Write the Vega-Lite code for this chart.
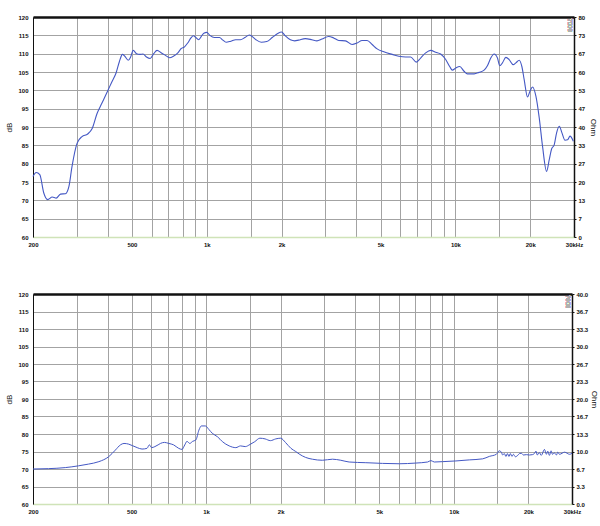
{
  "$schema": "https://vega.github.io/schema/vega-lite/v6.json",
  "background": "white",
  "padding": {"left": 5, "top": 14, "right": 0, "bottom": 2},
  "config": {
    "view": {"stroke": null},
    "font": "Liberation Sans",
    "axis": {"labelFont": "Liberation Sans", "labelFontSize": 6, "labelFontWeight": "bold", "labelColor": "#111", "titleFont": "Liberation Sans", "titleFontWeight": "normal", "titleFontSize": 8, "titleColor": "#111"}
  },
  "datasets": {
    "top": [
      {"f": 200, "db": 76.5}, {"f": 206, "db": 77.6}, {"f": 213, "db": 77.0}, {"f": 221, "db": 72.0}, {"f": 229, "db": 70.2},
      {"f": 239, "db": 70.9}, {"f": 248, "db": 70.6}, {"f": 258, "db": 71.7}, {"f": 270, "db": 71.8}, {"f": 279, "db": 73.8},
      {"f": 287, "db": 79.2}, {"f": 301, "db": 85.6}, {"f": 315, "db": 87.4}, {"f": 332, "db": 88.1}, {"f": 346, "db": 89.6},
      {"f": 362, "db": 93.7}, {"f": 378, "db": 96.4}, {"f": 398, "db": 99.6}, {"f": 415, "db": 102.3}, {"f": 432, "db": 104.8},
      {"f": 445, "db": 107.8}, {"f": 458, "db": 109.8}, {"f": 468, "db": 109.3}, {"f": 483, "db": 108.2}, {"f": 494, "db": 109.1},
      {"f": 506, "db": 110.9}, {"f": 522, "db": 110.0}, {"f": 538, "db": 109.8}, {"f": 554, "db": 109.9}, {"f": 572, "db": 109.1},
      {"f": 592, "db": 108.7}, {"f": 612, "db": 110.0}, {"f": 631, "db": 110.9}, {"f": 657, "db": 110.2}, {"f": 680, "db": 109.6},
      {"f": 709, "db": 108.9}, {"f": 734, "db": 109.3}, {"f": 765, "db": 110.2}, {"f": 789, "db": 111.4}, {"f": 812, "db": 111.8},
      {"f": 838, "db": 112.9}, {"f": 864, "db": 114.3}, {"f": 883, "db": 114.9}, {"f": 904, "db": 114.4}, {"f": 926, "db": 113.8},
      {"f": 951, "db": 114.7}, {"f": 973, "db": 115.6}, {"f": 1000, "db": 115.8}, {"f": 1029, "db": 115.0}, {"f": 1073, "db": 114.4},
      {"f": 1125, "db": 114.4}, {"f": 1161, "db": 113.7}, {"f": 1196, "db": 113.1}, {"f": 1250, "db": 113.4}, {"f": 1307, "db": 113.8},
      {"f": 1365, "db": 113.8}, {"f": 1424, "db": 114.4}, {"f": 1483, "db": 115.1}, {"f": 1522, "db": 114.7}, {"f": 1577, "db": 113.8},
      {"f": 1657, "db": 113.1}, {"f": 1743, "db": 113.3}, {"f": 1834, "db": 114.4}, {"f": 1929, "db": 115.5}, {"f": 2000, "db": 115.9},
      {"f": 2060, "db": 115.0}, {"f": 2170, "db": 113.8}, {"f": 2260, "db": 113.5}, {"f": 2340, "db": 113.7}, {"f": 2491, "db": 114.1},
      {"f": 2649, "db": 113.8}, {"f": 2775, "db": 113.5}, {"f": 2907, "db": 114.0}, {"f": 3093, "db": 114.7}, {"f": 3240, "db": 114.3},
      {"f": 3394, "db": 113.6}, {"f": 3612, "db": 113.5}, {"f": 3841, "db": 112.5}, {"f": 4023, "db": 112.9}, {"f": 4215, "db": 113.6},
      {"f": 4415, "db": 113.6}, {"f": 4626, "db": 112.5}, {"f": 4845, "db": 111.3}, {"f": 5155, "db": 110.5}, {"f": 5570, "db": 109.8},
      {"f": 5924, "db": 109.3}, {"f": 6306, "db": 109.1}, {"f": 6605, "db": 109.1}, {"f": 6961, "db": 107.7}, {"f": 7248, "db": 108.8},
      {"f": 7593, "db": 110.2}, {"f": 7953, "db": 110.9}, {"f": 8331, "db": 110.4}, {"f": 8727, "db": 109.9}, {"f": 9142, "db": 108.4},
      {"f": 9487, "db": 106.5}, {"f": 9721, "db": 105.5}, {"f": 10033, "db": 106.1}, {"f": 10410, "db": 106.5}, {"f": 10836, "db": 105.2},
      {"f": 11177, "db": 104.5}, {"f": 11890, "db": 104.5}, {"f": 12453, "db": 104.9}, {"f": 13045, "db": 105.5}, {"f": 13452, "db": 106.7},
      {"f": 13881, "db": 108.8}, {"f": 14313, "db": 109.9}, {"f": 14765, "db": 108.8}, {"f": 15092, "db": 106.7}, {"f": 15466, "db": 107.5},
      {"f": 15957, "db": 109.0}, {"f": 16455, "db": 108.4}, {"f": 17077, "db": 107.0}, {"f": 17509, "db": 107.5}, {"f": 18060, "db": 108.2},
      {"f": 18510, "db": 106.5}, {"f": 18912, "db": 102.9}, {"f": 19506, "db": 98.2}, {"f": 19940, "db": 99.7}, {"f": 20433, "db": 100.9},
      {"f": 21080, "db": 98.4}, {"f": 21742, "db": 92.5}, {"f": 22420, "db": 84.7}, {"f": 23270, "db": 77.9}, {"f": 23856, "db": 81.1},
      {"f": 24374, "db": 84.0}, {"f": 24990, "db": 85.2}, {"f": 25534, "db": 88.4}, {"f": 26177, "db": 90.2}, {"f": 26835, "db": 88.4},
      {"f": 27597, "db": 86.4}, {"f": 28276, "db": 86.5}, {"f": 28908, "db": 87.5}, {"f": 29814, "db": 86.1}
    ],
    "bottom": [
      {"f": 200, "db": 70.0}, {"f": 231, "db": 70.1}, {"f": 270, "db": 70.4}, {"f": 305, "db": 70.9}, {"f": 335, "db": 71.4},
      {"f": 369, "db": 72.1}, {"f": 404, "db": 73.5}, {"f": 430, "db": 75.4}, {"f": 451, "db": 76.9}, {"f": 466, "db": 77.3},
      {"f": 487, "db": 77.1}, {"f": 503, "db": 76.7}, {"f": 527, "db": 76.1}, {"f": 551, "db": 75.7}, {"f": 577, "db": 75.9},
      {"f": 590, "db": 76.9}, {"f": 602, "db": 76.1}, {"f": 621, "db": 76.4}, {"f": 640, "db": 76.9}, {"f": 654, "db": 77.3},
      {"f": 679, "db": 77.6}, {"f": 707, "db": 77.3}, {"f": 739, "db": 76.9}, {"f": 775, "db": 75.9}, {"f": 799, "db": 75.6},
      {"f": 820, "db": 76.9}, {"f": 837, "db": 77.9}, {"f": 859, "db": 77.3}, {"f": 882, "db": 77.9}, {"f": 909, "db": 78.3},
      {"f": 935, "db": 81.1}, {"f": 957, "db": 82.3}, {"f": 993, "db": 82.3}, {"f": 1026, "db": 81.3}, {"f": 1059, "db": 80.2},
      {"f": 1112, "db": 79.2}, {"f": 1164, "db": 77.8}, {"f": 1239, "db": 76.6}, {"f": 1318, "db": 76.1}, {"f": 1377, "db": 76.6},
      {"f": 1439, "db": 76.4}, {"f": 1503, "db": 77.0}, {"f": 1571, "db": 77.8}, {"f": 1648, "db": 78.8}, {"f": 1730, "db": 78.6},
      {"f": 1818, "db": 78.1}, {"f": 1910, "db": 78.6}, {"f": 2000, "db": 78.8}, {"f": 2090, "db": 77.6}, {"f": 2200, "db": 75.9},
      {"f": 2300, "db": 75.0}, {"f": 2373, "db": 74.3}, {"f": 2523, "db": 73.3}, {"f": 2685, "db": 72.8}, {"f": 2947, "db": 72.5},
      {"f": 3237, "db": 72.8}, {"f": 3497, "db": 72.5}, {"f": 3778, "db": 72.0}, {"f": 4413, "db": 71.8}, {"f": 5155, "db": 71.6},
      {"f": 6018, "db": 71.5}, {"f": 7028, "db": 71.7}, {"f": 7838, "db": 72.0}, {"f": 8085, "db": 72.4}, {"f": 8338, "db": 72.0},
      {"f": 9005, "db": 72.1}, {"f": 10197, "db": 72.3}, {"f": 11547, "db": 72.6}, {"f": 13074, "db": 72.9}, {"f": 13910, "db": 73.6},
      {"f": 14850, "db": 74.2}, {"f": 15260, "db": 75.2}, {"f": 15560, "db": 74.8}, {"f": 15750, "db": 74.0}, {"f": 16000, "db": 74.4},
      {"f": 16230, "db": 73.6}, {"f": 16460, "db": 74.4}, {"f": 16690, "db": 73.6}, {"f": 16920, "db": 74.4}, {"f": 17160, "db": 73.6},
      {"f": 17400, "db": 74.2}, {"f": 17720, "db": 73.5}, {"f": 18060, "db": 73.8}, {"f": 18390, "db": 74.4}, {"f": 18740, "db": 74.5},
      {"f": 19100, "db": 74.0}, {"f": 19630, "db": 74.1}, {"f": 20190, "db": 74.0}, {"f": 20760, "db": 74.1}, {"f": 21130, "db": 74.4},
      {"f": 21470, "db": 75.1}, {"f": 21730, "db": 74.0}, {"f": 22140, "db": 74.7}, {"f": 22550, "db": 73.9}, {"f": 23220, "db": 75.6},
      {"f": 23650, "db": 74.2}, {"f": 23940, "db": 75.1}, {"f": 24320, "db": 73.9}, {"f": 24700, "db": 75.2}, {"f": 25000, "db": 74.2},
      {"f": 25480, "db": 74.6}, {"f": 25960, "db": 74.0}, {"f": 26270, "db": 74.8}, {"f": 26700, "db": 74.2}, {"f": 28000, "db": 74.8},
      {"f": 29350, "db": 74.2}, {"f": 30000, "db": 74.5}
    ]
  },
  "spacing": 44,
  "vconcat": [
    {
      "width": 541, "height": 220,
      "data": {"name": "top"},
      "layer": [
        {
          "mark": {"type": "line", "color": "#4458c4", "strokeWidth": 1.1, "interpolate": "monotone"},
          "encoding": {
            "x": {"field": "f", "type": "quantitative", "scale": {"type": "log", "domain": [200, 30000], "nice": false},
              "axis": {"title": null, "values": [200, 300, 400, 500, 600, 700, 800, 900, 1000, 1500, 2000, 3000, 4000, 5000, 6000, 7000, 8000, 9000, 10000, 15000, 20000, 30000],
                "labelExpr": "datum.value == 200 ? '200' : datum.value == 500 ? '500' : datum.value == 1000 ? '1k' : datum.value == 2000 ? '2k' : datum.value == 5000 ? '5k' : datum.value == 10000 ? '10k' : datum.value == 20000 ? '20k' : datum.value == 30000 ? '30kHz' : ''",
                "grid": true, "gridColor": "#a3a3a3", "gridWidth": 1, "ticks": false, "domainColor": "#cfe3b8", "domainWidth": 1.5,
                "labelPadding": 4, "labelFlush": false, "labelOverlap": false}},
            "y": {"field": "db", "type": "quantitative", "scale": {"domain": [60, 120], "nice": false, "zero": false},
              "axis": {"title": "dB", "values": [60, 65, 70, 75, 80, 85, 90, 95, 100, 105, 110, 115, 120], "grid": true, "gridColor": "#a3a3a3", "gridWidth": 1,
                "ticks": false, "domainColor": "#111", "domainWidth": 1, "labelPadding": 5, "titlePadding": 4}}
          }
        },
        {
          "mark": {"type": "line", "opacity": 0},
          "encoding": {
            "x": {"field": "f", "type": "quantitative", "scale": {"type": "log", "domain": [200, 30000], "nice": false},
              "axis": {"orient": "top", "title": null, "labels": false, "ticks": false, "grid": false, "domainColor": "#111", "domainWidth": 2.5, "minExtent": 0, "maxExtent": 0}},
            "y": {"field": "db", "type": "quantitative", "scale": {"domain": [60, 120], "nice": false, "zero": false},
              "axis": {"orient": "right", "title": "Ohm", "values": [60, 65, 70, 75, 80, 85, 90, 95, 100, 105, 110, 115, 120],
                "labelExpr": "format((datum.value - 60) * 80 / 60, '.0f')", "grid": false, "ticks": true, "tickSize": 2, "tickColor": "#111",
                "domainColor": "#111", "domainWidth": 1.5, "labelPadding": 2, "titlePadding": 4}}
          }
        },
        {
          "mark": {"type": "text", "angle": 90, "fontSize": 6, "color": "#b0b0b0", "align": "center", "baseline": "middle"},
          "encoding": {
            "x": {"datum": 28900, "type": "quantitative", "axis": null},
            "y": {"datum": 117.8, "type": "quantitative", "axis": null},
            "text": {"value": "7008"}
          }
        }
      ],
      "resolve": {"axis": {"x": "independent", "y": "independent"}}
    },
    {
      "width": 539, "height": 210,
      "data": {"name": "bottom"},
      "layer": [
        {
          "mark": {"type": "line", "color": "#4458c4", "strokeWidth": 1.0, "interpolate": "monotone"},
          "encoding": {
            "x": {"field": "f", "type": "quantitative", "scale": {"type": "log", "domain": [200, 30000], "nice": false},
              "axis": {"title": null, "values": [200, 300, 400, 500, 600, 700, 800, 900, 1000, 1500, 2000, 3000, 4000, 5000, 6000, 7000, 8000, 9000, 10000, 15000, 20000, 30000],
                "labelExpr": "datum.value == 200 ? '200' : datum.value == 500 ? '500' : datum.value == 1000 ? '1k' : datum.value == 2000 ? '2k' : datum.value == 5000 ? '5k' : datum.value == 10000 ? '10k' : datum.value == 20000 ? '20k' : datum.value == 30000 ? '30kHz' : ''",
                "grid": true, "gridColor": "#a3a3a3", "gridWidth": 1, "ticks": false, "domainColor": "#cfe3b8", "domainWidth": 1.5,
                "labelPadding": 4, "labelFlush": false, "labelOverlap": false}},
            "y": {"field": "db", "type": "quantitative", "scale": {"domain": [60, 120], "nice": false, "zero": false},
              "axis": {"title": "dB", "values": [60, 65, 70, 75, 80, 85, 90, 95, 100, 105, 110, 115, 120], "grid": true, "gridColor": "#a3a3a3", "gridWidth": 1,
                "ticks": false, "domainColor": "#111", "domainWidth": 1, "labelPadding": 5, "titlePadding": 4}}
          }
        },
        {
          "mark": {"type": "line", "opacity": 0},
          "encoding": {
            "x": {"field": "f", "type": "quantitative", "scale": {"type": "log", "domain": [200, 30000], "nice": false},
              "axis": {"orient": "top", "title": null, "labels": false, "ticks": false, "grid": false, "domainColor": "#111", "domainWidth": 2.5, "minExtent": 0, "maxExtent": 0}},
            "y": {"field": "db", "type": "quantitative", "scale": {"domain": [60, 120], "nice": false, "zero": false},
              "axis": {"orient": "right", "title": "Ohm", "values": [60, 65, 70, 75, 80, 85, 90, 95, 100, 105, 110, 115, 120],
                "labelExpr": "format((datum.value - 60) * 40 / 60, '.1f')", "grid": false, "ticks": true, "tickSize": 2, "tickColor": "#111",
                "domainColor": "#111", "domainWidth": 1.5, "labelPadding": 2, "titlePadding": 2}}
          }
        },
        {
          "mark": {"type": "text", "angle": 90, "fontSize": 6, "color": "#b0b0b0", "align": "center", "baseline": "middle"},
          "encoding": {
            "x": {"datum": 28900, "type": "quantitative", "axis": null},
            "y": {"datum": 117.8, "type": "quantitative", "axis": null},
            "text": {"value": "7008"}
          }
        }
      ],
      "resolve": {"axis": {"x": "independent", "y": "independent"}}
    }
  ]
}
